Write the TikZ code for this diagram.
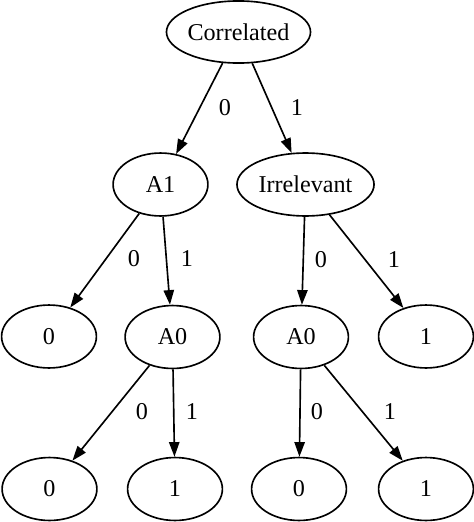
\documentclass[tikz,border=0pt]{standalone}
\usepackage{fontspec}
\setmainfont{Liberation Serif}
\usetikzlibrary{shapes.geometric,arrows.meta}
\begin{document}
\begin{tikzpicture}[x=0.58pt,y=-0.58pt,
  gv/.style={ellipse,draw,line width=0.95pt,inner sep=0pt,minimum width=55pt,minimum height=36.5pt,font=\fontsize{14pt}{16pt}\selectfont},
  lab/.style={inner sep=0pt,font=\fontsize{14pt}{16pt}\selectfont},
  edg/.style={line width=0.95pt,-{Triangle[length=8.5pt,width=6pt]}}]
\useasboundingbox (0,0) rectangle (474,522);
\node[gv,minimum width=83pt,minimum height=36pt] (C) at (238.5,32) {Correlated};
\node[gv] (A1) at (160.5,184.5) {A1};
\node[gv,minimum width=79.5pt] (I) at (305.5,184.5) {Irrelevant};
\node[gv] (L0) at (49,336.5) {0};
\node[gv] (A0a) at (172.5,337) {A0};
\node[gv] (A0b) at (301,337) {A0};
\node[gv] (R1) at (426,336.5) {1};
\node[gv] (B0a) at (49.5,489) {0};
\node[gv] (B1a) at (175,489) {1};
\node[gv] (B0b) at (299,489) {0};
\node[gv] (B1b) at (426,489) {1};
\draw[edg] (C) -- (A1);
\draw[edg] (C) -- (I);
\draw[edg] (A1) -- (L0);
\draw[edg] (A1) -- (A0a);
\draw[edg] (I) -- (A0b);
\draw[edg] (I) -- (R1);
\draw[edg] (A0a) -- (B0a);
\draw[edg] (A0a) -- (B1a);
\draw[edg] (A0b) -- (B0b);
\draw[edg] (A0b) -- (B1b);
\node[lab] (l1) at (225,108) {0};
\node[lab] (l2) at (297,108) {1};
\node[lab] (l3) at (134,259) {0};
\node[lab] (l4) at (187,259) {1};
\node[lab] (l5) at (321,260) {0};
\node[lab] (l6) at (394,260) {1};
\node[lab] (l7) at (142,412) {0};
\node[lab] (l8) at (192,412) {1};
\node[lab] (l9) at (317,412) {0};
\node[lab] (l10) at (390,412) {1};
\end{tikzpicture}
\end{document}
